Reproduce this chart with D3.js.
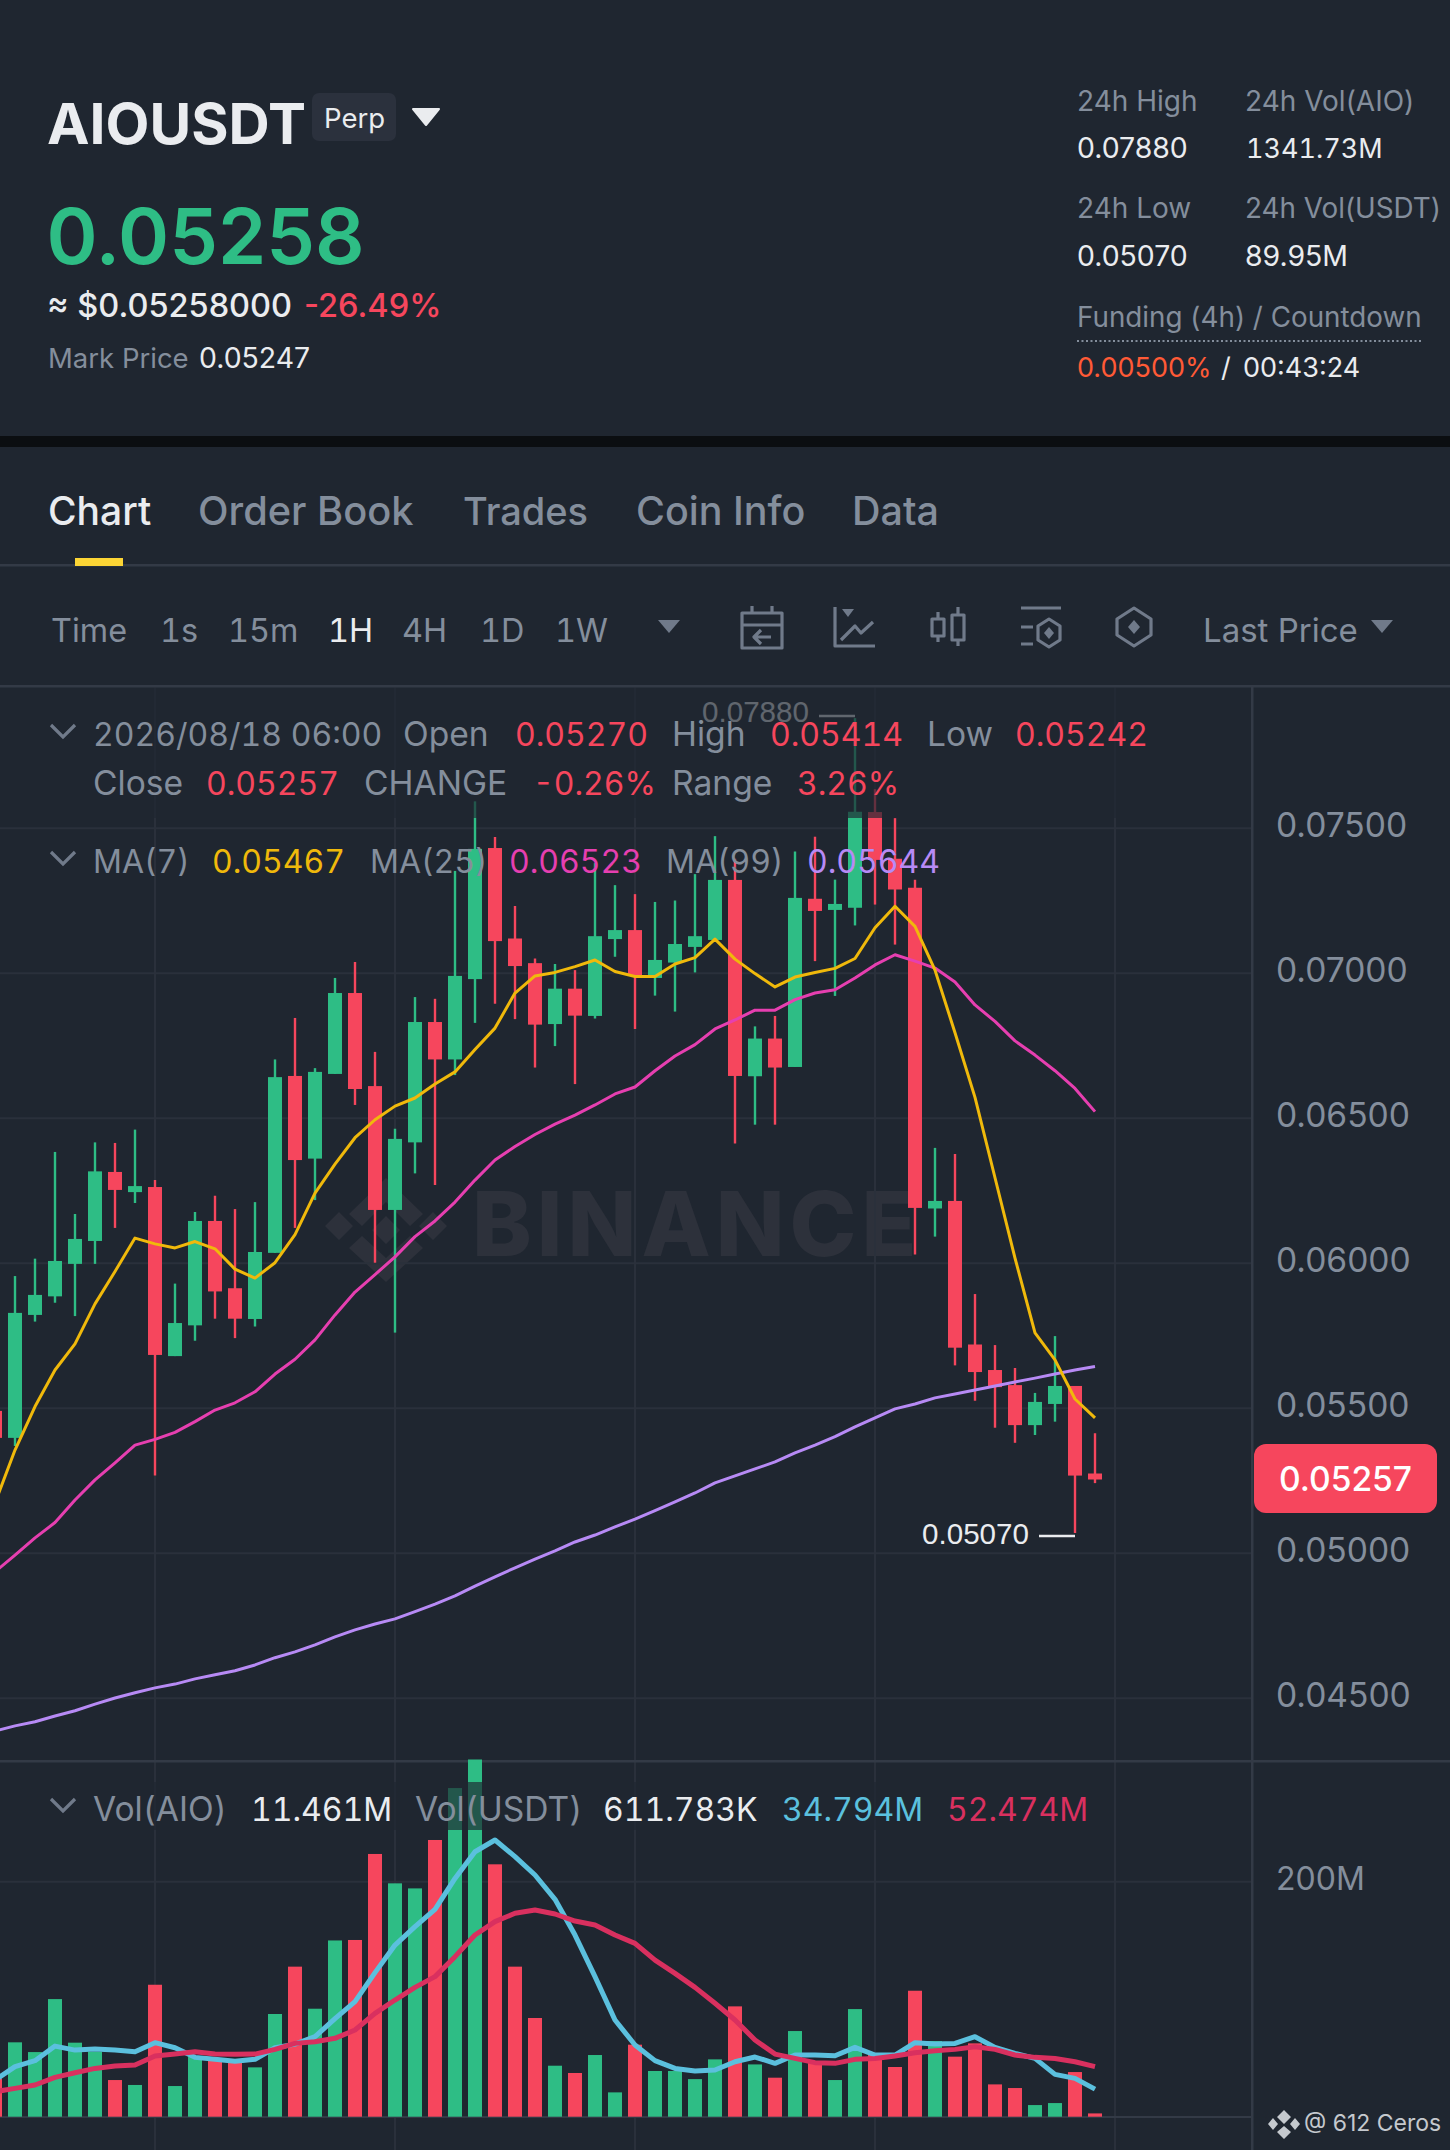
<!DOCTYPE html>
<html>
<head>
<meta charset="utf-8">
<script src="https://cdn.jsdelivr.net/npm/d3@7"></script>
<style>
  html, body { margin: 0; padding: 0; background: #1f2630; }
  svg { display: block; }
  text { font-family: Inter, "Noto Sans", sans-serif; }
  .tnum { font-feature-settings: "tnum"; }
  .arial { font-family: "Liberation Sans", sans-serif; }
</style>
</head>
<body>
<div id="chart"></div>
<script>
// first entry is the candle cut off by the left edge of the screen
const candleIdx = d3.range(-1, 55);
const open = [.05491,.05398,.05822,.05886,.05998,.06077,.06315,.06241,.06263,.0568,.05786,.06146,.05914,.05808,.06036,.06646,.06361,.06653,.06932,.06611,.06184,.06417,.06832,.06703,.0698,.07432,.0712,.07035,.06825,.06947,.06853,.07118,.07149,.06984,.07037,.07091,.07115,.07322,.06645,.06775,.06677,.07257,.07215,.07226,.07556,.07395,.07295,.06189,.06215,.0572,.05632,.0558,.05442,.05515,.05577,.0527];
const close = [.05398,.05829,.05891,.06008,.06084,.06317,.06253,.06261,.05684,.05794,.06146,.05903,.05809,.06039,.06642,.06356,.0666,.06932,.06601,.06184,.06429,.06832,.06703,.06991,.07429,.07111,.07025,.06823,.06947,.06854,.07128,.07149,.06991,.07046,.07101,.07128,.07322,.06646,.06775,.06675,.0726,.07215,.07234,.07557,.07391,.07289,.06191,.06215,.05709,.05625,.05573,.05442,.05522,.05577,.05268,.05257];
const high = [.05529,.05956,.06016,.06384,.0617,.06417,.06415,.06461,.06287,.0593,.06177,.06233,.06187,.06211,.06703,.06846,.06673,.06984,.07039,.06729,.06464,.06918,.06912,.07353,.07593,.0747,.07232,.07051,.07032,.07011,.0738,.07304,.07273,.07246,.07251,.07342,.07473,.07395,.06817,.06853,.0742,.07471,.07323,.0788,.07635,.07535,.07323,.06398,.06377,.05894,.05718,.05639,.05553,.05749,.05577,.05414];
const low = [.05374,.0537,.05799,.05864,.05818,.05998,.06122,.06208,.05268,.0568,.05733,.05809,.05742,.05782,.06036,.06122,.06218,.06653,.06546,.06002,.05761,.0631,.0627,.06649,.06829,.06895,.06842,.06675,.06749,.06618,.06844,.07057,.06808,.06923,.06868,.07003,.07115,.06413,.06478,.06478,.06677,.07042,.06922,.07165,.07237,.07099,.0603,.06092,.05648,.05526,.05433,.05381,.05408,.05454,.0507,.05242];
const ma7 = [.05173,.05356,.05506,.05632,.05722,.0586,.05972,.06087,.06067,.06053,.06075,.0605,.0598,.05949,.06002,.06099,.06242,.06342,.06433,.06495,.06542,.0657,.06618,.0666,.06737,.06811,.06932,.06991,.07003,.07023,.07046,.07006,.06989,.06989,.07032,.07054,.07118,.07049,.06999,.06953,.06987,.07003,.07017,.07051,.07157,.07231,.07162,.07011,.06795,.06572,.06295,.06018,.0576,.05667,.05532,.05467];
const ma25 = [.04936,.04994,.05053,.05106,.05184,.05253,.05312,.05373,.05393,.05417,.05454,.05494,.05519,.05557,.05618,.05669,.05736,.05822,.05901,.05961,.06022,.06092,.06146,.06211,.06287,.06356,.06403,.06444,.0648,.06511,.06546,.06584,.06608,.06664,.06715,.06754,.06808,.06839,.06873,.06873,.06909,.06932,.06943,.06984,.07029,.07064,.07042,.07018,.0697,.06891,.06834,.06767,.06718,.06664,.06603,.06523];
const ma99 = [.04387,.04405,.04419,.04439,.04457,.0448,.04501,.04519,.04536,.04549,.04567,.04581,.04595,.04615,.0464,.0466,.04684,.04712,.04736,.04756,.04774,.04799,.04825,.04853,.04887,.04919,.0495,.0498,.05008,.05039,.05063,.05091,.05118,.05147,.05177,.05208,.05243,.05267,.05291,.05315,.05346,.05373,.05402,.05436,.05467,.05498,.05515,.05536,.05549,.05563,.05577,.05591,.05604,.05618,.05632,.05644];
// volumes in millions
const volume = [32.6,63.3,55,100.1,63,55.3,31.2,27,112.3,26.1,51,48.2,46.8,42,87.4,127.7,91.9,150,150.4,223.6,198.6,194.3,235.5,279.7,304,214.8,127.7,84,43.4,37.2,52.5,20.7,61.3,38.9,38.9,32,48.8,93.9,44.5,33.2,72.9,46.8,31.2,91.6,52.5,42.3,107.2,64.4,51.1,62.4,27.5,24.4,9.9,11.6,38,2.8];
const volMa5 = [31.2,42.6,47.7,60.1,56.7,57.6,56.7,55.3,63,58.7,50.5,48.8,47.1,48.8,58.7,61.8,68.1,83.4,97.9,122.6,146.1,161.7,176.5,202.8,225.5,235.5,221.3,205.7,185,154.6,119.2,82.3,61,47.7,41.1,38.9,39.7,46.8,50.8,45.4,52.5,52.5,51.9,59,52.5,52.5,63,61.8,62.4,68.1,59,53.9,49.6,36,32.6,23.5];
const volMa10 = [21.3,24.1,27,33.5,37.4,41.1,43.1,44,51.6,53.3,55.3,53.3,53.1,53.3,57.3,62.4,63.8,66.7,73.8,87.9,99.3,110.1,119.2,136.2,154.6,166,173.1,175.9,172.5,166.5,163.1,154.6,147.5,133.3,122,110.1,96.5,82.3,65.3,53.3,49.6,46,45.4,48.8,49.6,51.6,54.5,56.2,57.3,59.6,57.3,52.5,50.5,49.6,46.8,42.6];
const priceTicks = [0.045, 0.05, 0.055, 0.06, 0.065, 0.07, 0.075];
const volTicks = [200];
const gridIdx = [7, 19, 31, 43, 55];
const lastPrice = 0.05257;
const maxPrice = 0.0788;
const minPrice = 0.0507;

const green = "#2ebd85", red = "#f6465d", grey = "#848e9c", white = "#eaecef";
const bg = "#1f2630", gridCol = "#2a303b", lineCol = "#333a46", iconCol = "#707a8a";

const svg = d3.select("#chart").append("svg").attr("width", 1450).attr("height", 2150);
svg.append("rect").attr("width", 1450).attr("height", 2150).attr("fill", bg);

const x = d3.scaleLinear().domain([-1, 54]).range([-5, 1095]);
const y = d3.scaleLinear().domain([0.045, 0.075]).range([1698.3, 828.3]);
const yVol = d3.scaleLinear().domain([0, 200]).range([2116.7, 1881.7]);

function label(g, px, py, txt, size, fill, weight) {
  return g.append("text").attr("x", px).attr("y", py).attr("font-size", size)
    .attr("fill", fill).attr("font-weight", weight || 400).text(txt);
}

/* header */
const head = svg.append("g");
label(head, 47, 143.5, "AIOUSDT", 57, white, 700);
head.append("rect").attr("x", 312).attr("y", 93).attr("width", 84).attr("height", 48).attr("rx", 7).attr("fill", "#2b313d");
label(head, 324, 128, "Perp", 27.5, white);
head.append("path").attr("d", "M413 109H439L426 125Z").attr("fill", white).attr("stroke", white).attr("stroke-width", 2).attr("stroke-linejoin", "round");
label(head, 46.5, 264, "0.05258", 77.5, green, 600);
label(head, 47, 317, "≈ $0.05258000", 32.5, white, 500);
label(head, 304, 317, "-26.49%", 32.5, red, 500);
label(head, 48, 368, "Mark Price", 27.5, grey);
label(head, 199, 368, "0.05247", 28.4, white);
label(head, 1077, 111, "24h High", 28, grey);
label(head, 1245, 111, "24h Vol(AIO)", 28, grey);
label(head, 1077, 158, "0.07880", 28.4, white);
label(head, 1246, 158, "1341.73M", 27, white).attr("class", "tnum");
label(head, 1077, 218, "24h Low", 28, grey);
label(head, 1245, 218, "24h Vol(USDT)", 27.8, grey);
label(head, 1077, 266, "0.05070", 28.4, white);
label(head, 1245, 266, "89.95M", 28.4, white);
label(head, 1077, 327, "Funding (4h) / Countdown", 27.8, grey);
head.append("line").attr("x1", 1077).attr("x2", 1422).attr("y1", 341).attr("y2", 341)
  .attr("stroke", grey).attr("stroke-width", 2).attr("stroke-dasharray", "2 2.5");
label(head, 1077, 377, "0.00500%", 27, "#ff5a36");
label(head, 1221, 377, "/", 27, white);
label(head, 1243, 377, "00:43:24", 27, white);

svg.append("rect").attr("x", 0).attr("y", 436).attr("width", 1450).attr("height", 11).attr("fill", "#0b0e11");

/* tabs */
const tabNames = ["Chart", "Order Book", "Trades", "Coin Info", "Data"];
const tabX = [48, 198, 463, 636, 852];
const tabSize = [39, 39.8, 38, 39.5, 39.5];
tabNames.forEach((t, i) => label(svg, tabX[i], 525, t, tabSize[i], i === 0 ? white : grey, 500));
svg.append("rect").attr("x", 0).attr("y", 564).attr("width", 1450).attr("height", 2.5).attr("fill", lineCol);
svg.append("rect").attr("x", 75).attr("y", 558).attr("width", 48).attr("height", 8).attr("fill", "#fcd535");

/* toolbar */
const toolNames = ["Time", "1s", "15m", "1H", "4H", "1D", "1W"];
const toolX = [51, 160, 228, 328, 402, 480, 555];
toolNames.forEach((t, i) => label(svg, toolX[i], 642, t, 32.4, t === "1H" ? white : grey).attr("class", "tnum"));
label(svg, 1203, 642, "Last Price", 33, grey);
const tri = c => `M${c - 11} 620H${c + 11}L${c} 633Z`;
svg.append("path").attr("d", tri(669)).attr("fill", iconCol);
svg.append("path").attr("d", tri(1382)).attr("fill", iconCol);
const icons = svg.append("g").attr("fill", "none").attr("stroke", iconCol).attr("stroke-width", 3.2).attr("stroke-linejoin", "round");
// calendar
icons.append("path").attr("d", "M742 613H782V648H742ZM742 625H782M752 606V613M772 606V613M771 637H754M761 630L754 637L761 644");
// mini chart
icons.append("path").attr("d", "M835 607V646H875M841 640L855 626L861 633L873 622");
icons.append("path").attr("d", "M842 609H854L848 617Z").attr("fill", iconCol).attr("stroke", "none");
// candles
icons.append("path").attr("d", "M932 619H944V636H932ZM938 612V619M938 636V642M952 615H964V640H952ZM958 607V615M958 640V646");
// depth
icons.append("path").attr("d", "M1021 608H1061M1021 627H1033M1021 644H1033M1049 619L1060 626V640L1049 647L1038 640V626Z");
icons.append("path").attr("d", "M1049 627L1054 633L1049 639L1044 633Z").attr("fill", iconCol).attr("stroke", "none");
// hexagon
icons.append("path").attr("d", "M1134 608L1151 619V635L1134 646L1117 635V619Z");
icons.append("path").attr("d", "M1134 620L1140 627L1134 634L1128 627Z").attr("fill", iconCol).attr("stroke", "none");
svg.append("rect").attr("x", 0).attr("y", 685).attr("width", 1450).attr("height", 2.5).attr("fill", lineCol);

/* watermark */
const wm = svg.append("g").attr("fill", "#2d313b");
const cx = 386, cy = 1230;
const diamond = (a, b, r) => `M${a - r} ${b}L${a} ${b - r}L${a + r} ${b}L${a} ${b + r}Z`;
wm.append("path").attr("d", diamond(cx, cy, 14) + diamond(cx - 47, cy - 4, 14) + diamond(cx + 47, cy - 4, 14)
  + `M${cx} ${cy - 52}L${cx + 37} ${cy - 16}L${cx + 24} ${cy - 4}L${cx} ${cy - 28}L${cx - 24} ${cy - 4}L${cx - 37} ${cy - 16}Z`
  + `M${cx} ${cy + 52}L${cx + 37} ${cy + 18}L${cx + 24} ${cy + 6}L${cx} ${cy + 28}L${cx - 24} ${cy + 6}L${cx - 37} ${cy + 18}Z`);
label(wm, 472, 1256, "BINANCE", 90, "#2d313b", 800).attr("letter-spacing", 5);

/* axes and grid */
const priceAxis = d3.axisRight(y).tickValues(priceTicks).tickFormat(d3.format(".5f")).tickSize(0).tickPadding(24);
const gy = svg.append("g").attr("transform", "translate(1252,0)").call(priceAxis);
const volAxis = d3.axisRight(yVol).tickValues(volTicks).tickFormat(d => d + "M").tickSize(0).tickPadding(24);
const gv = svg.append("g").attr("transform", "translate(1252,0)").call(volAxis);
gy.selectAll("text").attr("font-size", 33.6).attr("dy", 8);
gv.selectAll("text").attr("font-size", 32).attr("dy", 8);
[gy, gv].forEach(g => {
  g.select(".domain").remove();
  g.selectAll("text").attr("fill", grey).attr("font-family", null);
});
const grid = svg.append("g").attr("stroke", gridCol).attr("stroke-width", 2);
grid.selectAll(".h").data(priceTicks).join("line").attr("x1", 0).attr("x2", 1252).attr("y1", d => y(d)).attr("y2", d => y(d));
grid.selectAll(".hv").data(volTicks).join("line").attr("x1", 0).attr("x2", 1252).attr("y1", d => yVol(d)).attr("y2", d => yVol(d));
grid.selectAll(".v").data(gridIdx).join("line").attr("x1", d => x(d)).attr("x2", d => x(d)).attr("y1", 687).attr("y2", 2150);
svg.append("rect").attr("x", 0).attr("y", 1760).attr("width", 1450).attr("height", 2.5).attr("fill", lineCol);
svg.append("rect").attr("x", 0).attr("y", 2116).attr("width", 1252).attr("height", 2).attr("fill", lineCol);
svg.append("rect").attr("x", 1251).attr("y", 687).attr("width", 2.5).attr("height", 1463).attr("fill", lineCol);

/* volume */
svg.append("g").selectAll("rect").data(candleIdx).join("rect")
  .attr("x", (d, i) => x(d) - 7).attr("width", 14)
  .attr("y", (d, i) => yVol(volume[i])).attr("height", (d, i) => yVol(0) - yVol(volume[i]))
  .attr("fill", (d, i) => close[i] >= open[i] ? green : red);

/* candles */
const candles = svg.append("g");
candles.selectAll("line").data(candleIdx).join("line")
  .attr("x1", d => x(d)).attr("x2", d => x(d))
  .attr("y1", (d, i) => y(high[i])).attr("y2", (d, i) => y(low[i]))
  .attr("stroke-width", 2.4)
  .attr("stroke", (d, i) => close[i] >= open[i] ? green : red);
candles.selectAll("rect").data(candleIdx).join("rect")
  .attr("x", d => x(d) - 7).attr("width", 14)
  .attr("y", (d, i) => y(Math.max(open[i], close[i])) - (Math.abs(y(open[i]) - y(close[i])) < 6 ? 1.5 : 0))
  .attr("height", (d, i) => Math.max(6, Math.abs(y(open[i]) - y(close[i]))))
  .attr("fill", (d, i) => close[i] >= open[i] ? green : red);

/* moving averages */
const priceLine = d3.line().x((d, i) => x(candleIdx[i])).y(d => y(d));
const volLine = d3.line().x((d, i) => x(candleIdx[i])).y(d => yVol(d));
const drawLine = (vals, gen, col, w) => svg.append("path").datum(vals).attr("d", gen)
  .attr("fill", "none").attr("stroke", col).attr("stroke-width", w).attr("stroke-linejoin", "round");
drawLine(ma99, priceLine, "#b78af5", 3);
drawLine(ma25, priceLine, "#e63fb0", 3);
drawLine(ma7, priceLine, "#f0b90b", 3);
drawLine(volMa5, volLine, "#5bc0de", 5);
drawLine(volMa10, volLine, "#d9305f", 5);

/* max / min marks */
label(svg, 702, 722, maxPrice.toFixed(5), 29.6, white).attr("class", "arial");
svg.append("line").attr("x1", 819).attr("x2", x(42)).attr("y1", y(maxPrice) - 2).attr("y2", y(maxPrice) - 2).attr("stroke", white).attr("stroke-width", 2.5);
label(svg, 922, 1544, minPrice.toFixed(5), 29.6, white).attr("class", "arial");
svg.append("line").attr("x1", 1039).attr("x2", x(53)).attr("y1", y(minPrice) + 3).attr("y2", y(minPrice) + 3).attr("stroke", white).attr("stroke-width", 2.5);

/* last price tag */
svg.append("rect").attr("x", 1254).attr("y", 1444).attr("width", 183).attr("height", 69).attr("rx", 12).attr("fill", red);
label(svg, 1345.5, y(lastPrice) + 12, lastPrice.toFixed(5), 33.6, "#fff", 500).attr("text-anchor", "middle");

/* legend veils: the dark bands behind the OHLC and volume rows */
svg.append("rect").attr("x", 40).attr("y", 688).attr("width", 1130).attr("height", 130).attr("fill", bg).attr("opacity", 0.68);
svg.append("rect").attr("x", 40).attr("y", 1782).attr("width", 1065).attr("height", 48).attr("fill", bg).attr("opacity", 0.68);

/* legends */
const chevron = (c) => svg.append("path").attr("d", `M51 ${c - 6}L63 ${c + 6}L75 ${c - 6}`)
  .attr("fill", "none").attr("stroke", iconCol).attr("stroke-width", 3.2);
chevron(731); chevron(858); chevron(1805);
// words at 33.6, figures narrower because their tabular digits run wide
const rows = [
  [93, 746, "2026/08/18 06:00", grey, 32], [403, 746, "Open", grey], [515, 746, "0.05270", red, 32],
  [672, 746, "High", grey], [770, 746, "0.05414", red, 32], [927, 746, "Low", grey], [1015, 746, "0.05242", red, 32],
  [93, 795, "Close", grey], [206, 795, "0.05257", red, 32], [364, 795, "CHANGE", grey], [533, 795, "-0.26%", red, 32],
  [672, 795, "Range", grey], [797, 795, "3.26%", red, 32],
  [93, 873, "MA(7)", grey, 32], [212, 873, "0.05467", "#f0b90b", 32], [370, 873, "MA(25)", grey, 32], [509, 873, "0.06523", "#e63fb0", 32],
  [666, 873, "MA(99)", grey, 32], [807, 873, "0.05644", "#b78af5", 32],
  [93, 1821, "Vol(AIO)", grey], [251, 1821, "11.461M", white, 32], [415, 1821, "Vol(USDT)", grey], [603, 1821, "611.783K", white, 32],
  [782, 1821, "34.794M", "#5bc0de", 32], [947, 1821, "52.474M", "#d9305f", 32]
];
rows.forEach(r => label(svg, r[0], r[1], r[2], r[4] || 33.6, r[3]).attr("class", "tnum"));

/* footer mark */
svg.append("path").attr("fill", "#c5c9ce").attr("d", "M1284 2110L1291 2117L1284 2124L1277 2117ZM1273 2118L1278 2124L1273 2130L1268 2124ZM1295 2118L1300 2124L1295 2130L1290 2124ZM1284 2126L1291 2132L1284 2139L1277 2132Z");
label(svg, 1304, 2131, "@ 612 Ceros", 23, "#c5c9ce");
</script>
</body>
</html>
